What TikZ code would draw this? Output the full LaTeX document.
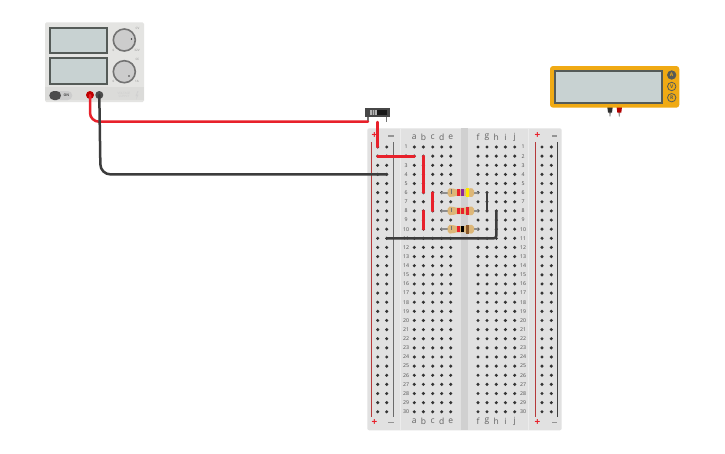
\documentclass[tikz,border=0pt]{standalone}
\usepackage{fontspec}
\setmainfont{Open Sans}
\definecolor{boardc}{HTML}{E1E1E1}
\definecolor{sepc}{HTML}{ECECEC}
\definecolor{groovec}{HTML}{D0D0D0}
\definecolor{holec}{HTML}{333333}
\definecolor{wirered}{HTML}{E8212B}
\definecolor{wiredark}{HTML}{3C3C3C}
\definecolor{railred}{HTML}{B5393A}
\definecolor{raildark}{HTML}{6A6A6A}
\definecolor{psuc}{HTML}{E4E4E2}
\definecolor{screenc}{HTML}{C8D2D2}
\definecolor{framec}{HTML}{555B58}
\definecolor{amber}{HTML}{F0AA14}
\definecolor{bodyc}{HTML}{DDB778}
\definecolor{leadc}{HTML}{8E8E8E}
\definecolor{bandpurple}{HTML}{8B2A9B}
\definecolor{bandyellow}{HTML}{FFEA00}
\definecolor{bandbrown}{HTML}{8B5A2B}
\tikzset{
  x=1pt,y=-1pt,
  hole/.style={circle,fill=holec,inner sep=0pt,minimum size=3.4pt},
  boardlabel/.style={font=\fontsize{8.5}{9}\selectfont,text=black!62,inner sep=0pt},
  rownum/.style={font=\fontsize{5.2}{5}\selectfont,text=black!70,inner sep=0pt},
  redwire/.style={draw=wirered,line width=2.5pt,line cap=round},
  darkwire/.style={draw=wiredark,line width=2.5pt,line cap=round},
  tiny/.style={font=\fontsize{3}{3}\selectfont,text=black!45,inner sep=0pt},
  screen/.style={fill=screenc,draw=framec,line width=2pt},
  knob/.style={circle,fill=black!20,draw=black!55,line width=1.6pt,minimum size=22pt,inner sep=0pt},
  lead/.style={draw=leadc,line width=1.8pt,line cap=round},
  meterbtn/.style={circle,draw=framec,line width=.8pt,minimum size=8.4pt,inner sep=0pt,font=\fontsize{5}{5}\selectfont\bfseries,text=framec},
}
\newcommand{\resistor}[5]{% name, y, band1, band2, band3
  \coordinate (#1l) at (441.7,#2);
  \coordinate (#1r) at (478,#2);
  \draw[lead] (#1l) -- (#1r);
  \fill[bodyc,rounded corners=1.8pt] (447.7,#2-4) -- (452,#2-4.6) -- (454.5,#2-3.2) -- (466.5,#2-3.2) -- (469,#2-4.6) -- (474,#2-4) -- (474,#2+4) -- (469,#2+4.6) -- (466.5,#2+3.2) -- (454.5,#2+3.2) -- (452,#2+4.6) -- (447.7,#2+4) -- cycle;
  \draw[black!55,line width=.4pt] (451,#2-3.2) -- (451,#2+1);
  \fill[#3] (456.9,#2-3.2) rectangle (459.7,#2+3.2);
  \fill[#4] (461.3,#2-3.2) rectangle (464.1,#2+3.2);
  \fill[#5] (465.7,#2-4.3) rectangle (469,#2+4.3);
}
\begin{document}
\begin{tikzpicture}
\useasboundingbox (0,0) rectangle (725,453);
\fill[white] (0,0) rectangle (725,453);

% power supply
\fill[psuc,rounded corners=1.5pt] (45,22.3) rectangle (144,102);
\fill[black!4!psuc] (45,87) rectangle (144,100);
\draw[screen] (49.5,28) rectangle (106.8,52.8);
\draw[screen] (49.5,58) rectangle (106.8,83.8);
\node[knob] (knobA) at (124.3,40) {};
\node[knob] (knobB) at (124.3,71.7) {};
\fill[black!75] (131.5,39) circle (.9);
\fill[black!75] (129,76) circle (.9);
\node[tiny] at (137.5,28) {CV};
\node[tiny] at (137.5,59.5) {CC};
\node[tiny] at (113.5,50) {0};
\node[tiny] at (137,50) {32V};
\node[tiny] at (113.5,81) {0};
\node[tiny] at (137,81) {1A};
\fill[black!20,rounded corners=4.5pt] (49.3,91) rectangle (72.3,100);
\fill[black!70,rounded corners=4.5pt] (49.3,91) rectangle (61,100);
\node[font=\fontsize{3.5}{4}\selectfont\bfseries,text=black!70,inner sep=0pt] at (66.5,95.5) {ON};
\node[tiny,text=black!20,align=center] at (124,95) {VOLTAGE\\[-.4pt]SUPPLY};
\fill[black!18] (137.5,91) -- (135.5,96) -- (137,96) -- (136,99.5) -- (138.5,94.5) -- (137,94.5) -- (138.5,91) -- cycle;

% multimeter
\fill[black!40] (609,112) -- (611,112) -- (610.4,116.7) -- (609.6,116.7) -- cycle;
\fill[black!40] (618.3,112) -- (620.3,112) -- (619.7,116.7) -- (618.9,116.7) -- cycle;
\fill[black!82] (607.3,107) -- (612.7,107) -- (612,112.5) -- (608,112.5) -- cycle;
\fill[red!70!black] (616.6,107) -- (622,107) -- (621.3,112.5) -- (617.3,112.5) -- cycle;
\fill[amber,rounded corners=3pt] (550,66) rectangle (679.3,107.7);
\draw[screen] (555.3,71.3) rectangle (662.4,103);
\node[meterbtn,fill=framec,text=amber] (btnA) at (671.7,75) {A};
\node[meterbtn] (btnV) at (671.7,86.5) {V};
\node[meterbtn] (btnR) at (671.7,97.7) {R};

% breadboard
\fill[boardc,rounded corners=2pt] (367.3,128.3) rectangle (561.7,430.3);
\fill[sepc] (400.3,128.3) rectangle (401.1,430.3);
\fill[sepc] (527.9,128.3) rectangle (528.7,430.3);
\fill[groovec] (460.7,128.3) rectangle (468.3,430.3);
\draw[railred,line width=1pt] (371,142) -- (371,416.7);
\draw[raildark,line width=1.2pt] (393.3,142) -- (393.3,416.7);
\draw[railred,line width=1pt] (535.7,142) -- (535.7,416.7);
\draw[black!75,line width=1pt] (557.3,142) -- (557.3,416.7);
\foreach \lab/\xx in {a/414.3,b/423.4,c/432.7,d/441.7,e/450.7,f/478,g/487,h/496.3,i/505.4,j/514.7}{
  \node[boardlabel] at (\xx,137) {\lab};
  \node[boardlabel] at (\xx,421.5) {\lab};
}
\foreach \xx/\yy in {375/136,375/422.5,538/136,538/422.5}{
  \node[font=\fontsize{10}{10}\selectfont\bfseries,text=wirered,inner sep=0pt] at (\xx-.5,\yy) {+};
}
\foreach \xx/\yy in {390.7/136,390.7/422.5,554.5/136,554.5/422.5}{
  \fill[black!42] (\xx-2.8,\yy-.6) rectangle (\xx+2.8,\yy+.6);
}
\foreach \r in {1,...,30}{
  \pgfmathsetmacro{\yy}{147+(\r-1)*9.13}
  \node[rownum] at (406,\yy) {\r};
  \node[rownum] at (523,\yy) {\r};
  \foreach \xx in {377.7,386.7,414.3,423.4,432.7,441.7,450.7,478,487,496.3,505.4,514.7,542,551.3}{
    \node[hole] at (\xx,\yy) {};
  }
}

% resistors
\resistor{ra}{192.6}{wirered}{bandpurple}{bandyellow}
\resistor{rb}{210.9}{wirered}{wirered}{wirered}
\resistor{rc}{229.2}{wirered}{black}{bandbrown}

% switch
\draw[black!55,line width=1.3pt] (368,116) -- (368,122);
\draw[black!55,line width=1.3pt] (386.7,116) -- (386.7,122);
\node[fill=black!72,minimum width=25.6pt,minimum height=8.7pt,inner sep=0pt] (switch) at (377.5,112.4) {};
\fill[black!30] (369.5,109.8) rectangle (376.5,115);
\fill[black!60] (371.5,109.8) rectangle (372.5,115);
\fill[black!60] (373.8,109.8) rectangle (374.8,115);
\fill[black!90] (376.5,109.8) rectangle (386.8,115);

% terminals
\node[circle,fill=red!75!black,minimum size=8pt,inner sep=0pt] (tplus) at (90,95) {};
\node[circle,fill=black!70,minimum size=8pt,inner sep=0pt] (tminus) at (99.3,95) {};
\coordinate (swin) at (368,121.7);
\coordinate (swout) at (377.7,122);
\coordinate (pa) at (377.7,147);
\coordinate (pb) at (377.7,156.6);
\coordinate (pc) at (414.3,156.6);
\coordinate (pd) at (423.4,156.1);
\coordinate (pe) at (423.4,192.6);
\coordinate (pf) at (432.7,192.6);
\coordinate (pg) at (432.7,210.9);
\coordinate (ph) at (423.4,210.9);
\coordinate (pi) at (423.4,229.2);
\coordinate (pj) at (487,192.6);
\coordinate (pk) at (487,210.9);
\coordinate (pl) at (496.3,210.9);
\coordinate (pm) at (386.7,238.3);
\coordinate (pn) at (386.7,174.4);

% wires
\draw[redwire,rounded corners=9pt] (tplus.center) -- (90,121.7) -- (swin);
\draw[darkwire,rounded corners=10pt] (tminus.center) -- (100.5,174.4) -- (pn);
\draw[redwire] (swout) -- (pa);
\draw[redwire,line width=2.9pt] (pb) -- (pc);
\draw[redwire] (pd) -- (pe);
\draw[redwire] (pf) -- (pg);
\draw[redwire] (ph) -- (pi);
\draw[darkwire] (pj) -- (pk);
\draw[darkwire,rounded corners=2.5pt] (pl) -- (496.3,238.3) -- (pm);
\end{tikzpicture}
\end{document}
